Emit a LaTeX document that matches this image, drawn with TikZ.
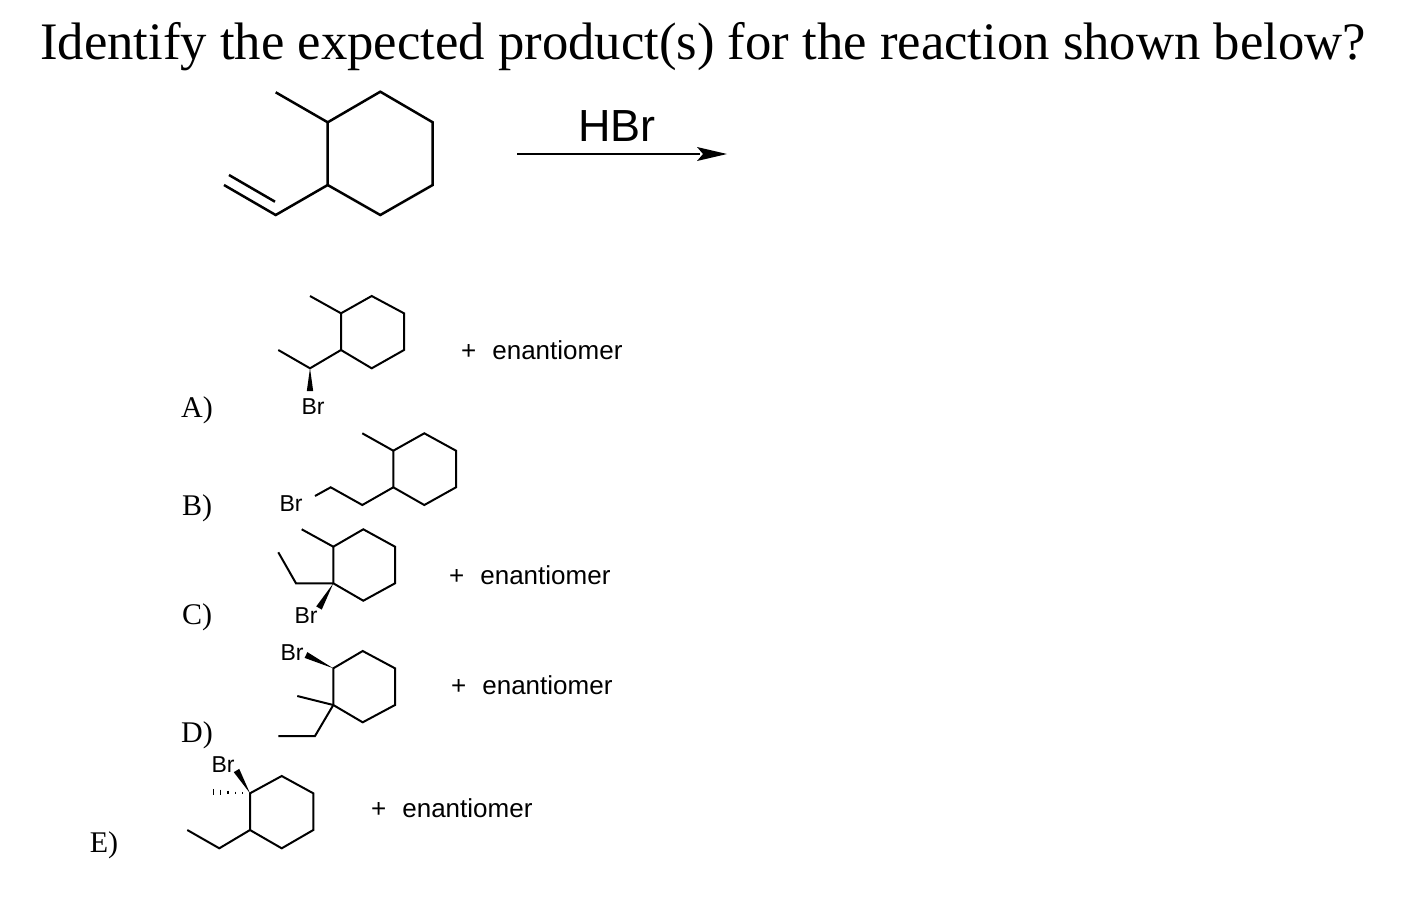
\documentclass[tikz,border=0pt]{standalone}
\usepackage{fontspec}
\setmainfont{Liberation Serif}
\newfontfamily\hv{Liberation Sans}
\usetikzlibrary{calc}
\tikzset{
 bond/.style={line width=2pt,line join=miter},
 mbond/.style={line width=2.5pt},
 lab/.style={font=\fontsize{30}{30}\selectfont,inner sep=0pt},
 atom/.style={font=\hv\fontsize{23}{23}\selectfont,inner sep=0pt},
 ena/.style={font=\hv\fontsize{26}{26}\selectfont,inner sep=0pt,anchor=west},
}
\newcommand{\mywedge}[2]{\fill ($(#1)$) -- ($(#2)!3.2pt!90:(#1)$) -- ($(#2)!3.2pt!-90:(#1)$) -- cycle;}
\begin{document}
\begin{tikzpicture}[x=1pt,y=-1pt]
\useasboundingbox (0,0) rectangle (1402,906);
\node[inner sep=0pt,font=\fontsize{52.7}{52.7}\selectfont] (title) at (703,47) {Identify the expected product(s) for the reaction shown below?};
% starting material
\draw[mbond] (327.7,122.3) -- (380.3,91.7) -- (432.7,122.3) -- (432.7,185) -- (380.3,215) -- (327.7,185) -- cycle;
\draw[mbond] (275.7,92.3) -- (327.7,122.3);
\draw[mbond] (327.7,185) -- (275.7,215) -- (224,185);
\draw[mbond] (229,175) -- (275,201.7);
\coordinate (a1) at (517,154); \coordinate (a2) at (727,154);
\draw[line width=2.5pt] (a1) -- (700,154);
\fill (a2) -- (697,147) -- (703,154) -- (697,161) -- cycle;
\node[font=\hv\fontsize{45}{45}\selectfont,inner sep=0pt] (hbr) at (617,126) {HBr};
% labels
\node[lab] (la) at (197,410) {A)};
\node[lab] (lb) at (197,508) {B)};
\node[lab] (lc) at (197,617) {C)};
\node[lab] (ld) at (197,735) {D)};
\node[lab] (le) at (104,845) {E)};
% A
\draw[bond] (341,313.3) -- (371.7,296) -- (404,313.3) -- (404,350) -- (371.7,368.3) -- (341,350) -- cycle;
\draw[bond] (310,296) -- (341,313.3);
\draw[bond] (341,350) -- (310,368.3) -- (278.3,350);
\coordinate (aC) at (310,368.3); \coordinate (aW) at (310,391);
\mywedge{aC}{aW}
\node[atom] (brA) at (313,407) {Br};
\node[ena] (enA) at (461,350) {+\hspace{16pt}enantiomer};
% B
\draw[bond] (393.3,450.7) -- (424.3,433.3) -- (456,450.7) -- (456,487.3) -- (424.3,505) -- (393.3,487.3) -- cycle;
\draw[bond] (362.3,433.3) -- (393.3,450.7);
\draw[bond] (393.3,487.3) -- (362.3,505) -- (330.7,487.3) -- (315,496);
\node[atom] (brB) at (291,504) {Br};
% C
\draw[bond] (333.3,546.7) -- (363.3,529.3) -- (395,546.7) -- (395,583.3) -- (363.3,600.7) -- (333.3,583.3) -- cycle;
\draw[bond] (301.7,529.3) -- (333.3,546.7);
\draw[bond] (333.3,583.3) -- (296,583.3) -- (278.3,552.3);
\coordinate (cC) at (333.3,583.3); \coordinate (cW) at (319,608);
\mywedge{cC}{cW}
\node[atom] (brC) at (306,616) {Br};
\node[ena] (enC) at (449,575) {+\hspace{16pt}enantiomer};
% D
\draw[bond] (333.3,668.3) -- (362.7,651) -- (395,668.3) -- (395,705) -- (362.7,722.3) -- (333.3,705) -- cycle;
\draw[bond] (333.3,705) -- (297.3,696);
\draw[bond] (333.3,705) -- (315,736) -- (278.3,736);
\coordinate (dC) at (333.3,668.3); \coordinate (dW) at (306,655);
\mywedge{dC}{dW}
\node[atom] (brD) at (292,653) {Br};
\node[ena] (enD) at (451,685) {+\hspace{16pt}enantiomer};
% E
\draw[bond] (250,793.3) -- (281.7,776) -- (313.3,793.3) -- (313.3,830) -- (281.7,848.3) -- (250,830) -- cycle;
\draw[bond] (250,830) -- (219.3,848.3) -- (187.3,830);
\coordinate (eC) at (250,793.3); \coordinate (eW) at (236.5,770.5); \coordinate (eH) at (213.3,793.3);
\mywedge{eC}{eW}
\foreach \t in {0.2,0.4,0.6,0.8,1.0} {
  \draw[line width=1.3pt] ($(eC)!\t!(eH)+(0,-\t*4.5)$) -- ($(eC)!\t!(eH)+(0,\t*1.5)$);
}
\node[atom] (brE) at (223,765) {Br};
\node[ena] (enE) at (371,808) {+\hspace{16pt}enantiomer};
\end{tikzpicture}
\end{document}
